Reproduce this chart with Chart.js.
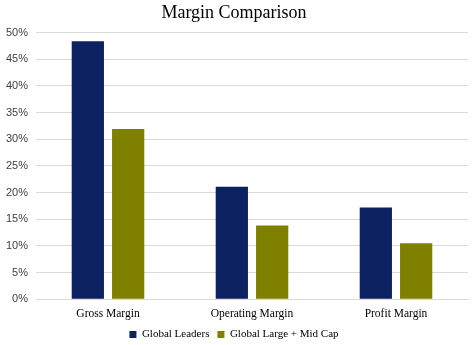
<!DOCTYPE html>
<html>
<head>
<meta charset="utf-8">
<script src="https://cdn.jsdelivr.net/npm/chart.js@4/dist/chart.umd.min.js"></script>
<style>
html,body{margin:0;padding:0;background:#fff;}
#wrap{width:474px;height:345px;position:relative;}
</style>
</head>
<body>
<div id="wrap"><canvas id="c" width="474" height="345"></canvas></div>
<script>
const categories = ["Gross Margin", "Operating Margin", "Profit Margin"];
const globalLeaders = [48.4, 21.1, 17.2];
const globalLargeMidCap = [31.9, 13.8, 10.5];
const yTicks = [0, 5, 10, 15, 20, 25, 30, 35, 40, 45, 50];

const serif = "'Liberation Serif', 'DejaVu Serif', serif";
const sans = "'Liberation Sans', 'Open Sans', sans-serif";

new Chart(document.getElementById('c'), {
  type: 'bar',
  data: {
    labels: categories,
    datasets: [
      { label: 'Global Leaders', data: globalLeaders, backgroundColor: '#0b2160', borderWidth: 0 },
      { label: 'Global Large + Mid Cap', data: globalLargeMidCap, backgroundColor: '#7f7f00', borderWidth: 0 }
    ]
  },
  options: {
    responsive: false,
    animation: false,
    devicePixelRatio: 1,
    layout: { padding: { left: 0, right: 6, top: 2, bottom: -5 } },
    datasets: { bar: { categoryPercentage: 0.56, barPercentage: 0.8 } },
    plugins: {
      title: {
        display: true,
        text: 'Margin Comparison',
        color: '#000',
        font: { family: serif, size: 18, weight: 'normal' },
        padding: { top: 0, bottom: 9 }
      },
      legend: {
        position: 'bottom',
        labels: {
          color: '#000',
          font: { family: serif, size: 11 },
          boxWidth: 7, boxHeight: 7,
          padding: 8
        }
      },
      tooltip: { enabled: false }
    },
    scales: {
      x: {
        grid: { display: false },
        border: { display: true, color: '#d9d9d9' },
        ticks: { color: '#000', font: { family: serif, size: 11.5 }, padding: 0 }
      },
      y: {
        min: 0, max: 50,
        afterFit: s => { s.width = 36; },
        afterBuildTicks: s => { s.ticks = yTicks.map(v => ({ value: v })); },
        grid: { color: '#d9d9d9', drawTicks: false },
        border: { display: false },
        ticks: { color: '#404040', font: { family: sans, size: 11 }, padding: 8,
          callback: v => v + '%' }
      }
    }
  }
});
</script>
</body>
</html>
